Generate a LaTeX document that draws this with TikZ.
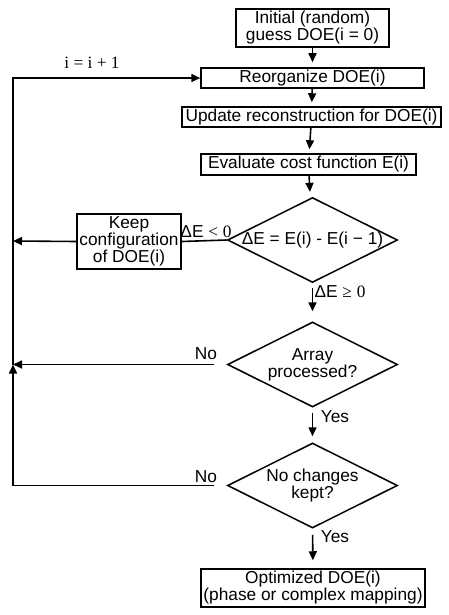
\documentclass[tikz,border=0pt]{standalone}
\usepackage{fontspec}
\setmainfont{Liberation Sans}
\newfontfamily\seriffont{Liberation Serif}
\usetikzlibrary{arrows.meta,shapes.geometric}
\begin{document}
\begin{tikzpicture}[x=1pt,y=-1pt,
  every node/.style={font=\fontsize{17.3}{17}\selectfont},
  box/.style={draw,line width=1.5pt,inner sep=0pt,align=center},
  dia/.style={draw,line width=1.5pt,shape=diamond,inner sep=0pt,minimum width=170pt,minimum height=85pt},
  arr/.style={line width=1.6pt,-{Triangle[length=9pt,width=8pt]}},
  ln/.style={line width=1.6pt},
  lbl/.style={inner sep=0pt}]
\useasboundingbox (0,0) rectangle (448,615);
\node[box,minimum width=153pt,minimum height=38pt] (init) at (312.5,28) {Initial (random)\\guess DOE(i = 0)};
\node[box,minimum width=223pt,minimum height=20pt] (reorg) at (312.5,78) {Reorganize DOE(i)};
\node[box,minimum width=259pt,minimum height=20pt] (update) at (311.5,117) {Update reconstruction for DOE(i)};
\node[box,minimum width=215pt,minimum height=21pt] (eval) at (308.5,164.5) {Evaluate cost function E(i)};
\node[dia] (d1) at (312.5,240) {};
\node[lbl] (t1) at (d1.center) {ΔE = E(i) - E(i − 1)};
\node[box,minimum width=104pt,minimum height=55pt] (keep) at (129,241.5) {Keep\\configuration\\of DOE(i)};
\node[dia] (d2) at (312.5,364.5) {};
\node[lbl,align=center] (t2) at (d2.center) {Array\\processed?};
\node[dia] (d3) at (312.5,485.5) {};
\node[lbl,align=center] (t3) at (d3.center) {No changes\\kept?};
\node[box,minimum width=224pt,minimum height=38pt] (final) at (313,588) {Optimized DOE(i)\\(phase or complex mapping)};
% coordinates of the loop
\coordinate (top) at (13,78);
\coordinate (jk) at (13,241);
\coordinate (j2) at (13,364.5);
\coordinate (bot) at (13,485.5);
\coordinate (n2) at (214,364.5);
\coordinate (n3) at (214,485.5);
% main flow
\draw[arr,shorten >=5pt] (init) -- (reorg);
\draw[arr,shorten >=4pt] (reorg) -- (update);
\draw[arr,shorten >=4pt] (update) -- (eval);
\draw[arr,shorten >=6pt] (eval) -- (d1);
\draw[arr,shorten <=5pt,shorten >=10pt] (d1.south) -- (d2.north);
\draw[arr,shorten <=5pt,shorten >=6pt] (d2.south) -- (d3.north);
\draw[arr,shorten <=6pt,shorten >=8pt] (d3.south) -- (final.north);
% side branches
\draw[ln] (d1.west) -- (keep.east);
\draw[arr] (keep.west) -- (jk);
\draw[arr] (n2) -- (j2);
\draw[arr] (n3) -- (bot) -- (j2);
\draw[arr] (j2) -- (top) -- (reorg.west);
% labels
\node[lbl] (l1) at (92,63) {\seriffont i = i + 1};
\node[lbl] (l2) at (206,232) {ΔE {\seriffont <} {\seriffont 0}};
\node[lbl] (l3) at (340,292) {ΔE {\seriffont ≥} {\seriffont 0}};
\node[lbl] (l4) at (206,354) {No};
\node[lbl] (l5) at (206,477) {No};
\node[lbl] (l6) at (335,417) {Yes};
\node[lbl] (l7) at (335,537) {Yes};
\end{tikzpicture}
\end{document}
